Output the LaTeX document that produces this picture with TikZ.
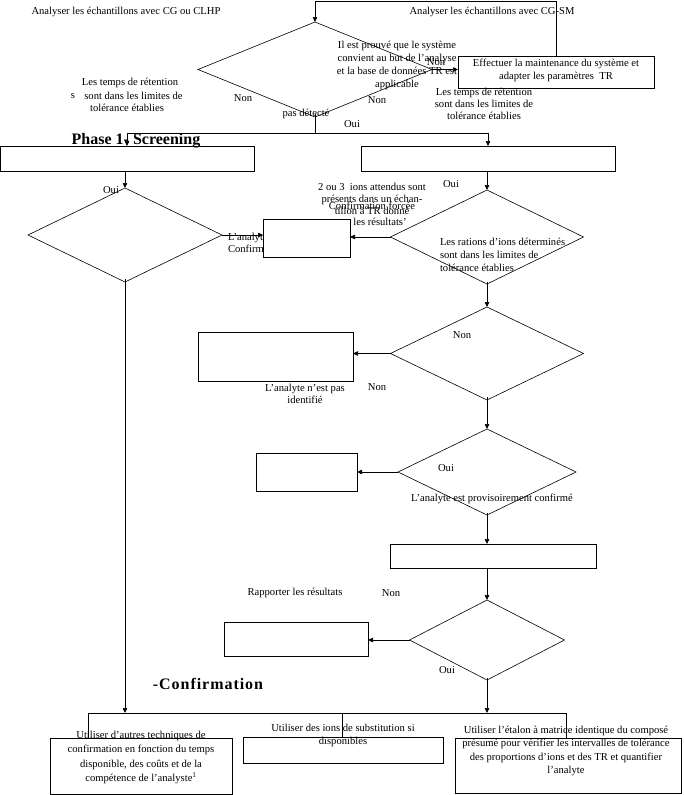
\documentclass[tikz,border=0pt]{standalone}
\usepackage{fontspec}
\setmainfont{Liberation Serif}
\usetikzlibrary{shapes.geometric,arrows.meta}
\begin{document}
\begin{tikzpicture}[x=1pt,y=-1pt,
  every node/.style={inner sep=0pt, outer sep=0pt},
  lbl/.style={font=\fontsize{10.6}{13}\selectfont, align=center, text=black},
  box/.style={draw, fill=white, line width=0.7pt},
  dia/.style={diamond, draw, line width=0.6pt},
  arr/.style={line width=0.7pt, -{Triangle[length=5pt,width=4.5pt]}},
  ln/.style={line width=0.7pt},
  big/.style={font=\fontsize{16}{18}\selectfont\bfseries}]
\useasboundingbox (0,0) rectangle (683,795);
\fill[white] (0,0) rectangle (683,795);

% texts partly hidden by boxes
\node[lbl] (tD0) at (397,65.5) {Il est prouvé que le système\\convient au but de l’analyse\\et la base de données TR est\\applicable};
\node[lbl, align=left, anchor=north west, font=\fontsize{10.6}{12}\selectfont] (tM1) at (228,233) {L’analyte est\\Confirmation};

% diamonds
\node[dia, minimum width=234pt, minimum height=95pt] (D0) at (315,69.5) {};
\node[dia, minimum width=194pt, minimum height=94pt] (LD) at (125,235) {};
\node[dia, minimum width=193pt, minimum height=94pt] (R1) at (487,237) {};
\node[dia, minimum width=193pt, minimum height=93pt] (R2) at (487,353.5) {};
\node[dia, minimum width=178pt, minimum height=86pt] (R3) at (487,472) {};
\node[dia, minimum width=155pt, minimum height=80pt] (R5) at (487,640) {};

% boxes
\node[box, minimum width=196pt, minimum height=32pt] (E) at (556,72) {};
\node[box, minimum width=254pt, minimum height=25pt] (L1) at (127,158.5) {};
\node[box, minimum width=254pt, minimum height=25pt] (R0) at (488,158.5) {};
\node[box, minimum width=87pt, minimum height=38pt] (M1) at (306.5,238) {};
\node[box, minimum width=155pt, minimum height=49pt] (M2) at (275.5,356.5) {};
\node[box, minimum width=101pt, minimum height=38pt] (M3) at (306.5,472) {};
\node[box, minimum width=206pt, minimum height=24pt] (R4) at (493,556) {};
\node[box, minimum width=144pt, minimum height=34pt] (M5) at (296,639) {};
\node[box, minimum width=182pt, minimum height=56pt] (BA) at (141,766) {};
\node[box, minimum width=200pt, minimum height=26pt] (BB) at (343,750) {};
\node[box, minimum width=226pt, minimum height=55pt] (BC) at (568,765.5) {};

% coordinates
\coordinate (tl) at (315,1);
\coordinate (J) at (315,133);
\coordinate (jl) at (127,133);
\coordinate (jr) at (488,133);
\coordinate (busL) at (88,713);
\coordinate (busM) at (342,713);
\coordinate (busR) at (566,713);

% connectors
\draw[ln] (E.north) -- (E.north |- tl) -- (tl);
\draw[arr] (tl) -- (D0.north);
\draw[arr] (D0.east) -- (D0.east -| E.west);
\draw[ln] ([yshift=3pt]D0.south) -- (J);
\draw[ln] (jl) -- (jr);
\draw[arr] (jl) -- (L1.north);
\draw[arr] (jr) -- (R0.north);
\draw[arr] (LD.north |- L1.south) -- (LD.north);
\draw[arr] (LD.east) -- (LD.east -| M1.west);
\draw[arr] ([yshift=3pt]LD.south) -- (LD.south |- busL);
\draw[arr] (R1.north |- R0.south) -- (R1.north);
\draw[arr] (R1.west) -- (R1.west -| M1.east);
\draw[arr] ([yshift=2pt]R1.south) -- (R2.north);
\draw[arr] (R2.west) -- (R2.west -| M2.east);
\draw[arr] ([yshift=3pt]R2.south) -- (R3.north);
\draw[arr] (R3.west) -- (R3.west -| M3.east);
\draw[arr] ([yshift=2pt]R3.south) -- (R3.south |- R4.north);
\draw[arr] (R5.north |- R4.south) -- (R5.north);
\draw[arr] (R5.west) -- (R5.west -| M5.east);
\draw[arr] ([yshift=2pt]R5.south) -- (R5.south |- busR);
\draw[ln] (busL) -- (busR);
\draw[ln] (busL) -- (busL |- BA.north);
\draw[ln] (busM) -- (busM |- BB.north);
\draw[ln] (busR) -- (busR |- BC.north);

% labels
\node[lbl] (t1) at (126,12) {Analyser les échantillons avec CG ou CLHP};
\node[lbl] (t2) at (492,12) {Analyser les échantillons avec CG-SM};
\node[lbl] (tE) at (556,70.5) {Effectuer la maintenance du système et\\adapter les paramètres\enspace TR};
\node[lbl] (nonA) at (436,62) {Non};
\node[lbl] (t5a) at (130,83) {Les temps de rétention};
\node[lbl] (t5s) at (73,96) {s};
\node[lbl] (t5b) at (133.5,96) {sont dans les limites de};
\node[lbl] (t5c) at (127,108) {tolérance établies};
\node[lbl] (nonB) at (243,98) {Non};
\node[lbl] (nonC) at (377,100) {Non};
\node[lbl] (tpas) at (306,114) {pas détecté};
\node[lbl, font=\fontsize{10.6}{11.8}\selectfont] (t7) at (484,104) {Les temps de rétention\\sont dans les limites de\\tolérance établies};
\node[lbl] (oui1) at (352,124) {Oui};
\node[big] (ph1) at (136,141) {Phase 1- Screening};
\node[lbl] (oui2) at (111,190) {Oui};
\node[lbl, font=\fontsize{10.6}{12}\selectfont] (t11) at (372,199) {2 ou 3\enspace ions attendus sont\\présents dans un échan-\\tillon à TR donné};
\node[lbl] (t12) at (372,206) {Confirmation forcée};
\node[lbl] (t13) at (380,222) {les résultats’};
\node[lbl] (oui3) at (451,184) {Oui};
\node[lbl, align=left, anchor=west] (t16) at (440,255) {Les rations d’ions déterminés\\sont dans les limites de\\tolérance établies};
\node[lbl] (non4) at (462,335) {Non};
\node[lbl, font=\fontsize{10.6}{12}\selectfont] (t18) at (305,394) {L’analyte n’est pas\\identifié};
\node[lbl] (non5) at (377,387) {Non};
\node[lbl] (oui5) at (446,468) {Oui};
\node[lbl] (t21) at (492,499) {L’analyte est provisoirement confirmé};
\node[lbl] (t22) at (295,593) {Rapporter les résultats};
\node[lbl] (non6) at (391,593) {Non};
\node[lbl] (oui6) at (447,670) {Oui};
\node[big, font=\fontsize{16}{18}\selectfont\bfseries\addfontfeature{LetterSpace=6}] (ph2) at (208,684) {-Confirmation};
\node[lbl, font=\fontsize{10.6}{14.3}\selectfont] (tBA) at (141,757.5) {Utiliser d’autres techniques de\\confirmation en fonction du temps\\disponible, des coûts et de la\\compétence de l’analyste\textsuperscript{1}};
\node[lbl] (tBB) at (343,735.5) {Utiliser des ions de substitution si\\disponibles};
\node[lbl, font=\fontsize{10.6}{13.3}\selectfont] (tBC) at (566,751) {Utiliser l’étalon à matrice identique du composé\\présumé pour vérifier les intervalles de tolérance\\des proportions d’ions et des TR et quantifier\\l’analyte};
\end{tikzpicture}
\end{document}
